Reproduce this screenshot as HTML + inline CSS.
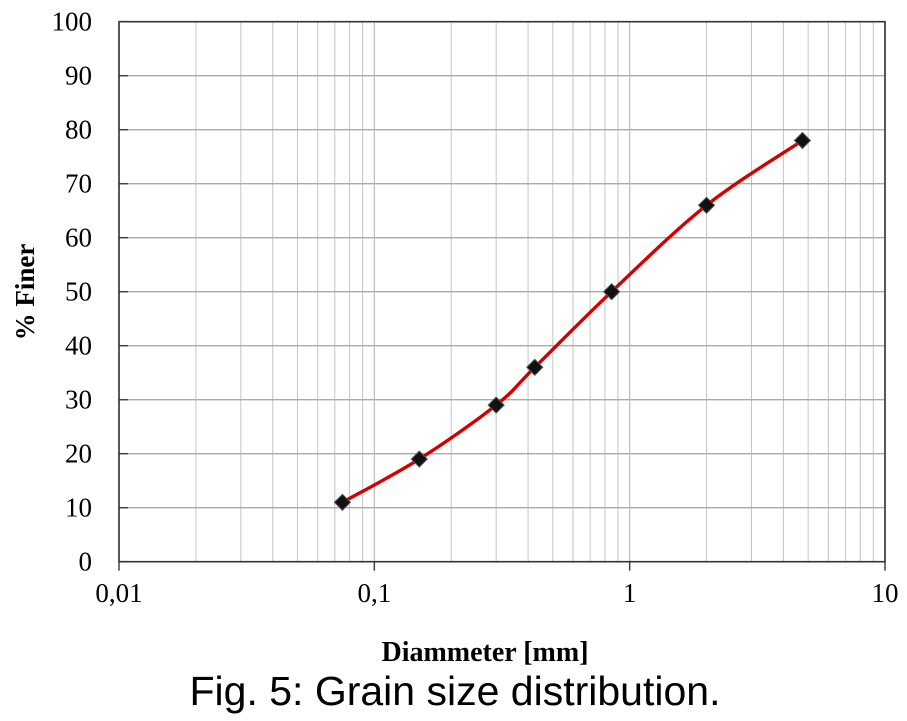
<!DOCTYPE html>
<html><head><meta charset="utf-8"><style>
body{margin:0;background:#fff;width:907px;height:721px;overflow:hidden}
svg{display:block}
</style></head><body>
<svg id="chart" width="907" height="721" viewBox="0 0 907 721">
<g id="grid"></g>
<g id="axes"></g>
<path id="curve" fill="none" stroke="#d40000" stroke-width="3.4"/>
<g id="points"></g>
<text transform="translate(34,292) rotate(-90)" text-anchor="middle" font-family="Liberation Serif, serif" font-weight="bold" font-size="27">% Finer</text>
<text x="485" y="661" text-anchor="middle" font-family="Liberation Serif, serif" font-weight="bold" font-size="28">Diammeter [mm]</text>
<text x="455" y="705" text-anchor="middle" font-family="Liberation Sans, sans-serif" font-size="41">Fig. 5: Grain size distribution.</text>
</svg>
<script>
const diameters=[0.075,0.15,0.3,0.425,0.85,2,4.75];
const percentFiner=[11,19,29,36,50,66,78];
const xTickValues=[0.01,0.1,1,10];
const xTickLabels=["0,01","0,1","1","10"];
const yTickValues=[0,10,20,30,40,50,60,70,80,90,100];

const L=119,R=885,T=21.7,B=561.7;
const NS="http://www.w3.org/2000/svg";
const xs=v=>L+(Math.log10(v)+2)/3*(R-L);
const ys=v=>B-v/100*(B-T);
function mk(tag,attrs,parent){const e=document.createElementNS(NS,tag);for(const k in attrs)e.setAttribute(k,attrs[k]);parent.appendChild(e);return e;}
const grid=document.getElementById('grid'),axes=document.getElementById('axes');
for(let d=-2;d<1;d++){for(let m=2;m<=9;m++){const x=xs(m*Math.pow(10,d));
const l=mk('line',{x1:x,x2:x,y1:T,y2:B,stroke:'#c4c4c4','stroke-width':1},grid);

}}
yTickValues.forEach(v=>{const y=ys(v);
const l=mk('line',{x1:L,x2:R,y1:y,y2:y,stroke:'#aaa','stroke-width':1.3},grid);


const tk=mk('line',{x1:L,x2:L+9,y1:y,y2:y,stroke:'#444','stroke-width':1.5},axes);


const t=mk('text',{x:92,y:y+9,'text-anchor':'end','font-family':'Liberation Serif, serif','font-size':27},axes);
t.textContent=v;

});
xTickValues.forEach((v,i)=>{const x=xs(v);
const g=mk('line',{x1:x,x2:x,y1:T,y2:B,stroke:'#bbb','stroke-width':1.2},grid);


const tk=mk('line',{x1:x,x2:x,y1:B,y2:B+9,stroke:'#444','stroke-width':1.5},axes);


const t=mk('text',{x:x,y:602,'text-anchor':'middle','font-family':'Liberation Serif, serif','font-size':27},axes);
t.textContent=xTickLabels[i];

});
const fr=mk('rect',{x:L,y:T,width:R-L,height:B-T,fill:'none',stroke:'#333','stroke-width':1.6},axes);


const P=diameters.map((d,i)=>[xs(d),ys(percentFiner[i])]);
let dstr=`M${P[0][0]},${P[0][1]}`;
for(let i=0;i<P.length-1;i++){const p0=P[Math.max(0,i-1)],p1=P[i],p2=P[i+1],p3=P[Math.min(P.length-1,i+2)];
const c1=[p1[0]+(p2[0]-p0[0])/6,p1[1]+(p2[1]-p0[1])/6],c2=[p2[0]-(p3[0]-p1[0])/6,p2[1]-(p3[1]-p1[1])/6];
dstr+=` C${c1[0]},${c1[1]} ${c2[0]},${c2[1]} ${p2[0]},${p2[1]}`;}
document.getElementById('curve').setAttribute('d',dstr);
const pts=document.getElementById('points');
P.forEach(([x,y])=>{const s=8;
const m=mk('polygon',{points:`${x},${y-s} ${x+s},${y} ${x},${y+s} ${x-s},${y}`,fill:'#111',stroke:'#555','stroke-width':1},pts);

});
</script>
</body></html>
